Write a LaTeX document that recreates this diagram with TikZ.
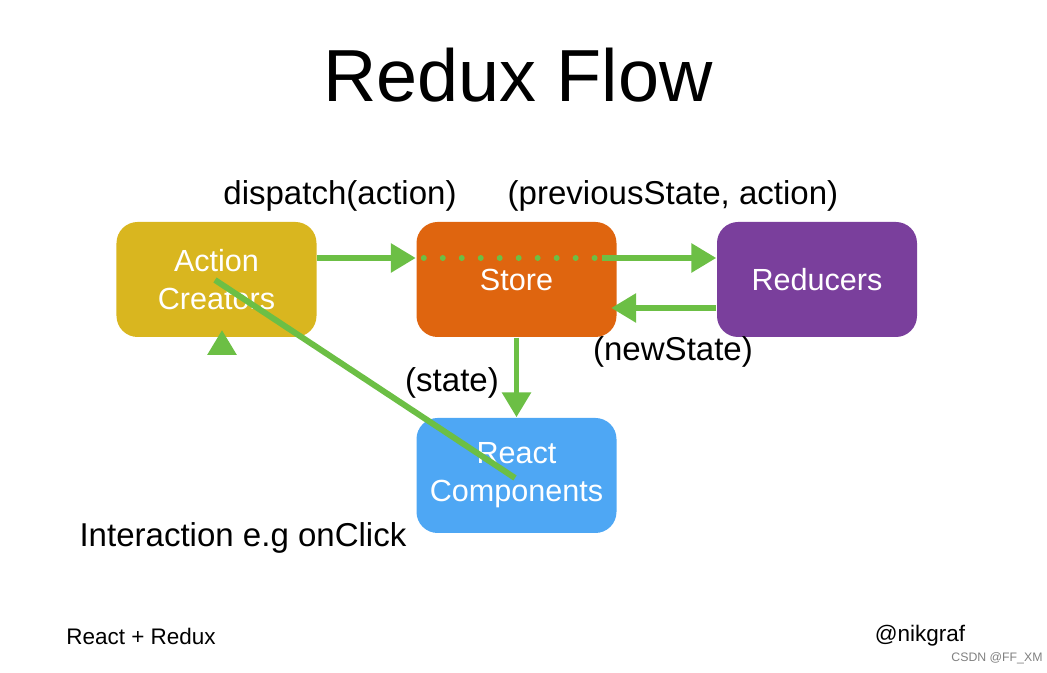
\documentclass[tikz,border=0pt]{standalone}
\usepackage{fontspec}
\setmainfont{Liberation Sans}
\usetikzlibrary{arrows.meta, calc}
\definecolor{rx-yellow}{HTML}{D9B61F}
\definecolor{rx-orange}{HTML}{DF650F}
\definecolor{rx-purple}{HTML}{7A3F9C}
\definecolor{rx-blue}{HTML}{4EA7F4}
\definecolor{rx-green}{HTML}{6CBF45}
\tikzset{
  box/.style={draw=none, rounded corners=6pt, inner sep=0pt, minimum width=2cm, minimum height=1.15cm, text width=2cm, text=white, font=\fontsize{8.7pt}{10.8pt}\selectfont, align=center},
  flow/.style={rx-green, line width=1.7pt, -{Triangle[length=0.25cm,width=0.28cm]}},
  lbl/.style={font=\fontsize{9.4pt}{11pt}\selectfont}
}
\begin{document}
\begin{tikzpicture}
					\useasboundingbox (0,0) rectangle (10.47,6.73);
					\node[font=\fontsize{21pt}{25pt}\selectfont] at (5.18,5.98) (title) {Redux Flow};
					
					\node[box, fill=rx-yellow] at (2.165,3.935) (action) {Action\\Creators};
					\node[box, fill=rx-orange] at (5.165,3.935) (store) {Store};
					\node[box, fill=rx-purple] at (8.17,3.935) (reducers) {Reducers};
					\node[box, fill=rx-blue] at (5.165,1.975) (react) {React\\Components};
					
					\draw[flow] (action.east |- 0,4.15) -- (store.west |- 0,4.15);
					\draw[rx-green, line width=1.7pt, line cap=round, dash pattern=on 0pt off 5.4pt] ($(store.west |- 0,4.15)+(0.08,0)$) -- ($(store.east |- 0,4.15)+(-0.15,0)$);
					\draw[flow] ($(store.east |- 0,4.15)+(-0.15,0)$) -- (reducers.west |- 0,4.15);
					\draw[flow] (reducers.west |- 0,3.65) -- ($(store.east |- 0,3.65)+(-0.06,0)$);
					\draw[flow] (store.south) -- (react.north);
					\draw[rx-green, line width=1.7pt] (2.15,3.93) -- (5.15,1.95);
					\coordinate (tip) at (2.22,3.43);
					\draw[flow] ($(tip)+(0,-0.22)$) -- (tip);
					
					\node[lbl] at (3.40,4.77) (dispatch) {dispatch(action)};
					\node[lbl] at (6.73,4.77) (prev) {(previousState, action)};
					\node[lbl] at (6.73,3.21) (newstate) {(newState)};
					\node[lbl] at (4.52,2.90) (state) {(state)};
					\node[lbl] at (2.43,1.35) (interaction) {Interaction e.g onClick};
					\node[font=\fontsize{6.4pt}{8pt}\selectfont] at (1.41,0.37) (footl) {React + Redux};
					\node[font=\fontsize{6.4pt}{8pt}\selectfont] at (9.20,0.37) (footr) {@nikgraf};
					\node[font=\fontsize{3.5pt}{4pt}\selectfont, text=gray] at (9.97,0.15) (csdn) {CSDN @FF\_XM};
				\end{tikzpicture}
\end{document}
